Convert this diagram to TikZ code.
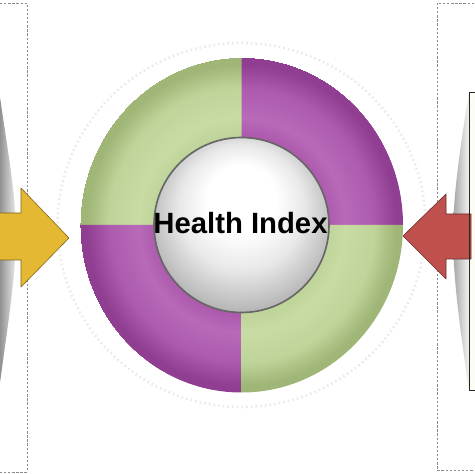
\documentclass[tikz,border=0pt]{standalone}
\usepackage{fontspec}
\setmainfont{Liberation Sans}
\usetikzlibrary{positioning}
\definecolor{grnL}{HTML}{C8DBA4}
\definecolor{grnM}{HTML}{BED499}
\definecolor{grnD}{HTML}{A0B677}
\definecolor{purL}{HTML}{B86AB8}
\definecolor{purM}{HTML}{AD5AAD}
\definecolor{purD}{HTML}{903E92}
\definecolor{arrowyellow}{HTML}{E4B832}
\definecolor{arrowred}{HTML}{C0504D}
\definecolor{cream}{HTML}{FDFCF2}
\pgfdeclareradialshading{greenring}{\pgfpoint{0bp}{0bp}}{color(0bp)=(grnM); color(13.4bp)=(grnM); color(16bp)=(grnL); color(20.5bp)=(grnM); color(24bp)=(grnD); color(25bp)=(grnD)}
\pgfdeclareradialshading{purplering}{\pgfpoint{0bp}{0bp}}{color(0bp)=(purM); color(13.4bp)=(purM); color(16bp)=(purL); color(20.5bp)=(purM); color(24bp)=(purD); color(25bp)=(purD)}
\pgfdeclareradialshading{sphereshade}{\pgfpoint{0bp}{10bp}}{color(0bp)=(white); color(10bp)=(white); color(18bp)=(black!9); color(26bp)=(black!26); color(31bp)=(black!38); color(36bp)=(black!45)}
\begin{document}
\begin{tikzpicture}[line join=round, x=0.03cm, y=0.03cm,
    frame/.style={black!45, line width=0.6pt, dash pattern=on 2pt off 1.5pt},
    yarrow/.style={fill=arrowyellow, draw=black!45!arrowyellow, line width=0.5pt},
    rarrow/.style={fill=arrowred, draw=black!45!arrowred, line width=0.5pt}
    ]
    \useasboundingbox (0,0) rectangle (474,474);
    \coordinate (c) at (241.5,249);
    \draw[frame] (0,471) -- (27,471) -- (27,2) -- (0,2);
    \draw[frame] (474,471) -- (437,471) -- (437,4) -- (474,4);
    \draw[black!8, line width=2.2pt, dash pattern=on 1.5pt off 2.5pt] (c) ellipse [x radius=184, y radius=182];
    % side panels
    \shade[left color=black!45, right color=black!8] (-1,384) .. controls (8,320) and (16,280) .. (16,239) .. controls (16,200) and (8,150) .. (-1,84) -- cycle;
    \shade[left color=black!35, right color=black!5] (469,382) .. controls (459,320) and (453,275) .. (453,239) .. controls (453,200) and (459,150) .. (469,84) -- cycle;
    \fill[cream] (469,382) rectangle (475,84);
    \draw[yarrow] (-2,261) -- (21,261) -- (21,286) -- (69,236) -- (21,187) -- (21,214) -- (-2,214);
    \draw[rarrow] (403,238) -- (446,280) -- (446,260) -- (471,260) -- (471,215) -- (446,215) -- (446,195) -- cycle;
    \draw[black!85, line width=0.8pt] (475,382) -- (469,382) -- (469,84) -- (475,84);
    \foreach \a/\s in {0/purplering, 90/greenring, 180/purplering, 270/greenring}
    {
        \begin{scope}
            \clip (c) -- ++(\a:161.5 and 167.5) arc[start angle=\a, end angle=\a+90, x radius=161.5, y radius=167.5] -- cycle;
            \shade[shading=\s] (c) ellipse [x radius=161.5, y radius=167.5];
        \end{scope}
    }
    \shade[shading=sphereshade] (c) circle (87);
    \draw[black!60, line width=1.4pt] (c) circle (87.5);
    \node[font=\bfseries\fontsize{25}{30}\selectfont, anchor=base] (hi) at (240.5,240) {Health Index};
\end{tikzpicture}
\end{document}
